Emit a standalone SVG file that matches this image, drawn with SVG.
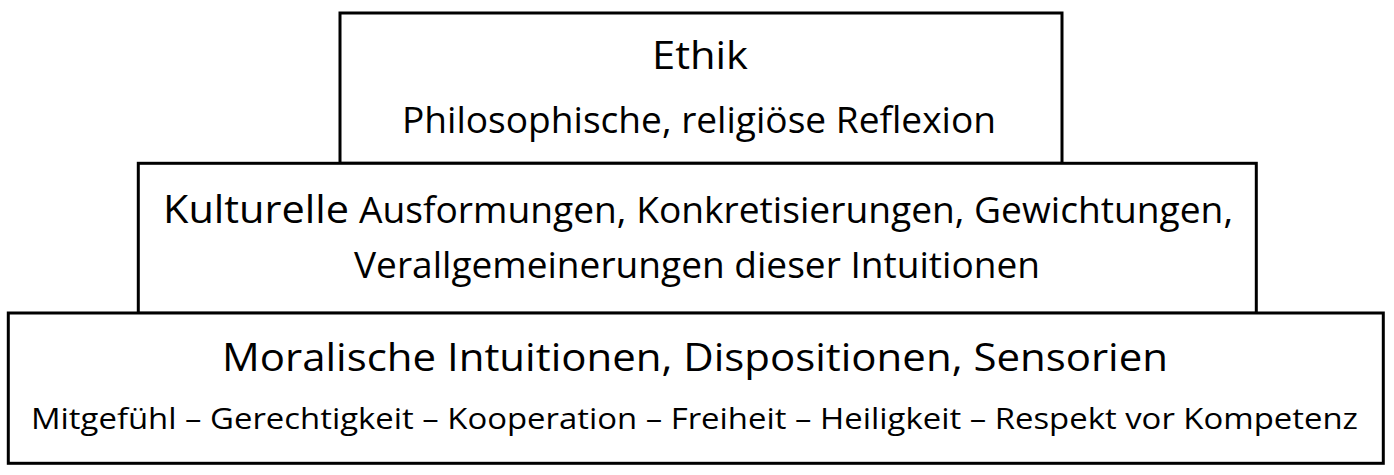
<svg xmlns="http://www.w3.org/2000/svg" width="1394" height="475" viewBox="0 0 1394 475">
<style>
.box{fill:#fff;stroke:#000;stroke-width:3}
text{font-family:"Open Sans","Noto Sans",sans-serif;fill:#000}
.t{font-size:36px}
.big{font-size:39px}
.sm{font-size:29.5px}
</style>
<rect width="1394" height="475" fill="#fff"/>
<g id="connectors"/>
<g id="node-ethik">
<rect class="box" x="340" y="13" width="722" height="150.3"/>
<text class="big" x="652" y="68.5" textLength="96" lengthAdjust="spacingAndGlyphs">Ethik</text>
<text class="t" x="402" y="132.5" textLength="594" lengthAdjust="spacingAndGlyphs">Philosophische, religiöse Reflexion</text>
</g>
<g id="node-kultur">
<rect class="box" x="138.3" y="163.3" width="1118" height="150"/>
<text class="big" x="163" y="223" textLength="186" lengthAdjust="spacingAndGlyphs">Kulturelle</text>
<text class="t" x="359" y="223" textLength="874" lengthAdjust="spacingAndGlyphs">Ausformungen, Konkretisierungen, Gewichtungen,</text>
<text class="t" x="354" y="278" textLength="686" lengthAdjust="spacingAndGlyphs">Verallgemeinerungen dieser Intuitionen</text>
</g>
<g id="node-moral">
<rect class="box" x="8.3" y="313" width="1375" height="150.3"/>
<text class="big" x="222" y="371" textLength="946" lengthAdjust="spacingAndGlyphs">Moralische Intuitionen, Dispositionen, Sensorien</text>
<text class="sm" x="31" y="428.5" textLength="1327" lengthAdjust="spacingAndGlyphs">Mitgefühl – Gerechtigkeit – Kooperation – Freiheit – Heiligkeit – Respekt vor Kompetenz</text>
</g>
</svg>
